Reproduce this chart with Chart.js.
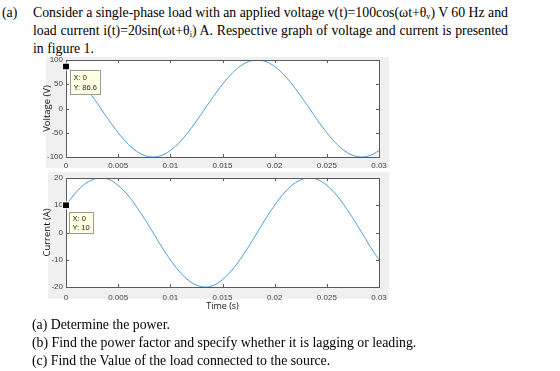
<!DOCTYPE html>
<html>
<head>
<meta charset="utf-8">
<script src="https://cdn.jsdelivr.net/npm/chart.js@4.4.1/dist/chart.umd.min.js"></script>
<style>
  html, body { margin: 0; padding: 0; background: #fff; }
  #page { position: relative; width: 560px; height: 371px; overflow: hidden; font-family: "Liberation Serif", "Times New Roman", serif; color: #000; }
  .q { position: absolute; font-size: 13.8px; line-height: 18px; white-space: nowrap; }
  .panel { position: absolute; background: #f0f0f0; }
  canvas { position: absolute; left: 0; }
  sub { font-size: 60%; vertical-align: -2px; line-height: 0; }
</style>
</head>
<body>
<div id="page">
  <div class="q" style="left:2px; top:4px;">(a)</div>
  <div class="q fit" style="left:33px; top:4px;">Consider a single-phase load with an applied voltage v(t)=100cos(ωt+θ<sub>v</sub>) V 60 Hz and</div>
  <div class="q fit" style="left:33px; top:22px;">load current i(t)=20sin(ωt+θ<sub>i</sub>) A. Respective graph of voltage and current is presented</div>
  <div class="q" style="left:33px; top:40px;">in figure 1.</div>

  <div class="panel" style="left:46px; top:57px; width:343px; height:111px;"></div>
  <div class="panel" style="left:48px; top:172px; width:341px; height:127px;"></div>

  <canvas id="voltageChart" width="400" height="120" style="top:52px;"></canvas>
  <canvas id="currentChart" width="400" height="145" style="top:170px;"></canvas>

  <div class="q" style="left:32px; top:316px;">(a) Determine the power.</div>
  <div class="q" style="left:32px; top:334px;">(b) Find the power factor and specify whether it is lagging or leading.</div>
  <div class="q" style="left:32px; top:352px;">(c) Find the Value of the load connected to the source.</div>
</div>

<script>
// time samples (s)
const times = [
  0, 0.0005, 0.001, 0.0015, 0.002, 0.0025, 0.003, 0.0035, 0.004, 0.0045,
  0.005, 0.0055, 0.006, 0.0065, 0.007, 0.0075, 0.008, 0.0085, 0.009, 0.0095,
  0.01, 0.0105, 0.011, 0.0115, 0.012, 0.0125, 0.013, 0.0135, 0.014, 0.0145,
  0.015, 0.0155, 0.016, 0.0165, 0.017, 0.0175, 0.018, 0.0185, 0.019, 0.0195,
  0.02, 0.0205, 0.021, 0.0215, 0.022, 0.0225, 0.023, 0.0235, 0.024, 0.0245,
  0.025, 0.0255, 0.026, 0.0265, 0.027, 0.0275, 0.028, 0.0285, 0.029, 0.0295,
  0.03
];

// voltage (V)
const voltage = [
  86.6, 77.7, 66.9, 54.5, 40.7, 25.9, 10.5, -5.2, -20.8, -35.8,
  -50.0, -62.9, -74.3, -83.9, -91.4, -96.6, -99.5, -99.9, -97.8, -93.4,
  -86.6, -77.7, -66.9, -54.5, -40.7, -25.9, -10.5, 5.2, 20.8, 35.8,
  50.0, 62.9, 74.3, 83.9, 91.4, 96.6, 99.5, 99.9, 97.8, 93.4,
  86.6, 77.7, 66.9, 54.5, 40.7, 25.9, 10.5, -5.2, -20.8, -35.8,
  -50.0, -62.9, -74.3, -83.9, -91.4, -96.6, -99.5, -99.9, -97.8, -93.4,
  -86.6
];

// current (A)
const current = [
  10.0, 12.6, 14.9, 16.8, 18.3, 19.3, 19.9, 20.0, 19.6, 18.7,
  17.3, 15.5, 13.4, 10.9, 8.1, 5.2, 2.1, -1.0, -4.2, -7.2,
  -10.0, -12.6, -14.9, -16.8, -18.3, -19.3, -19.9, -20.0, -19.6, -18.7,
  -17.3, -15.5, -13.4, -10.9, -8.1, -5.2, -2.1, 1.0, 4.2, 7.2,
  10.0, 12.6, 14.9, 16.8, 18.3, 19.3, 19.9, 20.0, 19.6, 18.7,
  17.3, 15.5, 13.4, 10.9, 8.1, 5.2, 2.1, -1.0, -4.2, -7.2,
  -10.0
];

const xTicks = [0, 0.005, 0.01, 0.015, 0.02, 0.025, 0.03];

const lineColor = "#4a9bd8";
const axisColor = "#5a5a5a";
const tickFont = { family: "'Liberation Sans', Arial, sans-serif", size: 8 };

// stretch the justified question lines to the same right edge
document.querySelectorAll(".fit").forEach(el => {
    const target = 475;
    const spaces = (el.textContent.match(/ /g) || []).length;
    const w = el.getBoundingClientRect().width;
    el.style.wordSpacing = ((target - w) / spaces) + "px";
});

// white plot area + MATLAB style box with inward ticks
const boxPlugin = {
    id: "matlabBox",
    beforeDatasetsDraw(chart) {
        const a = chart.chartArea;
        const ctx = chart.ctx;
        ctx.save();
        ctx.fillStyle = "#fff";
        ctx.fillRect(a.left, a.top, a.right - a.left, a.bottom - a.top);
        ctx.restore();
    },
    afterDatasetsDraw(chart) {
        const a = chart.chartArea;
        const ctx = chart.ctx;
        const xs = chart.scales.x, ys = chart.scales.y;
        const len = 3;
        ctx.save();
        ctx.strokeStyle = axisColor;
        ctx.lineWidth = 1;
        ctx.beginPath();
        xs.ticks.forEach(t => {
            const px = Math.round(xs.getPixelForValue(t.value)) + 0.5;
            ctx.moveTo(px, a.bottom); ctx.lineTo(px, a.bottom - len);
            ctx.moveTo(px, a.top); ctx.lineTo(px, a.top + len);
        });
        ys.ticks.forEach(t => {
            const py = Math.round(ys.getPixelForValue(t.value)) + 0.5;
            ctx.moveTo(a.left, py); ctx.lineTo(a.left + len, py);
            ctx.moveTo(a.right, py); ctx.lineTo(a.right - len, py);
        });
        ctx.stroke();
        ctx.strokeRect(Math.round(a.left) + 0.5, Math.round(a.top) + 0.5,
            Math.round(a.right - a.left), Math.round(a.bottom - a.top));
        ctx.restore();
    }
};

// data tip box at the first sample
const dataTipPlugin = {
    id: "dataTip",
    afterDraw(chart, args, opts) {
        if (!opts || opts.index === undefined) return;
        const ctx = chart.ctx;
        const xv = times[opts.index];
        const yv = chart.data.datasets[0].data[opts.index].y;
        const px = chart.scales.x.getPixelForValue(xv);
        const py = chart.scales.y.getPixelForValue(yv);
        ctx.save();
        // marker
        ctx.fillStyle = "#000";
        ctx.strokeStyle = "#fff";
        ctx.lineWidth = 1;
        ctx.fillRect(px - 3, py - 3, 6, 6);
        ctx.strokeRect(px - 3.5, py - 3.5, 7, 7);
        // box
        const bx = Math.round(px + opts.dx) + 0.5, by = Math.round(py + opts.dy) + 0.5;
        ctx.fillStyle = "#ffffe1";
        ctx.strokeStyle = "#9a9a9a";
        ctx.fillRect(bx, by, opts.w, opts.h);
        ctx.strokeRect(bx, by, opts.w, opts.h);
        ctx.fillStyle = "#222";
        ctx.font = "7.5px 'Liberation Sans', Arial, sans-serif";
        ctx.textBaseline = "middle";
        ctx.fillText("X: " + xv, bx + 3, by + opts.h * 0.3);
        ctx.fillText("Y: " + yv, bx + 3, by + opts.h * 0.72);
        ctx.restore();
    }
};

function makeChart(id, values, yMin, yMax, yStep, yLabel, xTitle, layout, tip) {
    const ctx = document.getElementById(id).getContext("2d");
    return new Chart(ctx, {
        type: "line",
        data: {
            datasets: [{
                data: times.map((t, i) => ({ x: t, y: values[i] })),
                borderColor: lineColor,
                borderWidth: 1,
                pointRadius: 0,
                tension: 0.4,
                fill: false
            }]
        },
        options: {
            responsive: false,
            animation: false,
            events: [],
            layout: { padding: layout.padding },
            plugins: {
                legend: { display: false },
                tooltip: { enabled: false },
                dataTip: tip
            },
            scales: {
                x: {
                    type: "linear",
                    min: 0,
                    max: 0.03,
                    grid: { display: false, drawTicks: false },
                    border: { display: false },
                    afterBuildTicks: s => { s.ticks = xTicks.map(v => ({ value: v })); },
                    afterFit: s => { s.height = layout.xHeight; },
                    ticks: {
                        color: "#444",
                        font: tickFont,
                        padding: layout.xPad,
                        maxRotation: 0,
                        autoSkip: false,
                        callback: v => String(+v.toFixed(3))
                    },
                    title: {
                        display: !!xTitle,
                        text: xTitle,
                        color: "#111",
                        padding: 0,
                        font: { family: "'Open Sans', 'Liberation Sans', sans-serif", size: 9 }
                    }
                },
                y: {
                    min: yMin,
                    max: yMax,
                    grid: { display: false, drawTicks: false },
                    border: { display: false },
                    afterBuildTicks: s => {
                        const list = [];
                        for (let v = yMin; v <= yMax; v += yStep) list.push({ value: v });
                        s.ticks = list;
                    },
                    afterFit: s => { s.width = layout.yWidth; },
                    ticks: { color: "#444", font: tickFont, padding: 3 },
                    title: {
                        display: true,
                        text: yLabel,
                        color: "#111",
                        padding: 0,
                        font: { family: "'Open Sans', 'Liberation Sans', sans-serif", size: 9.5 }
                    }
                }
            }
        },
        plugins: [boxPlugin, dataTipPlugin]
    });
}

makeChart("voltageChart", voltage, -100, 100, 50, "Voltage (V)", "",
    { padding: { left: 42, right: 21, top: 8, bottom: 3 }, yWidth: 24, xHeight: 12, xPad: 4 },
    { index: 0, dx: 4, dy: 4, w: 30, h: 24 });

makeChart("currentChart", current, -20, 20, 10, "Current (A)", "Time (s)",
    { padding: { left: 42, right: 21, top: 8, bottom: 3 }, yWidth: 24, xHeight: 25, xPad: 6 },
    { index: 0, dx: 3, dy: 7, w: 24, h: 21 });
</script>
</body>
</html>
